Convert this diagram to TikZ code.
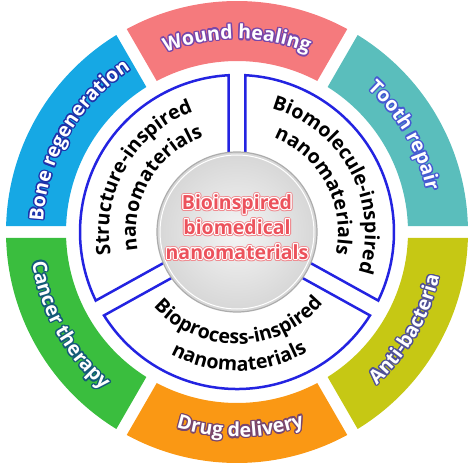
\documentclass[tikz,border=0pt]{standalone}
\usepackage{fontspec}
\setmainfont{Open Sans}
\usetikzlibrary{decorations.text}

\definecolor{woundc}{RGB}{245,122,125}
\definecolor{toothc}{RGB}{90,190,188}
\definecolor{antic}{RGB}{198,200,20}
\definecolor{drugc}{RGB}{250,152,20}
\definecolor{cancerc}{RGB}{58,190,62}
\definecolor{bonec}{RGB}{22,168,228}
\definecolor{woundg}{RGB}{120,70,170}
\definecolor{toothg}{RGB}{70,90,210}
\definecolor{antig}{RGB}{80,80,150}
\definecolor{drugg}{RGB}{120,70,110}
\definecolor{cancerg}{RGB}{20,90,120}
\definecolor{boneg}{RGB}{30,50,170}
\definecolor{secblue}{RGB}{35,35,225}
\definecolor{corered}{RGB}{236,82,92}
\definecolor{coreglow}{RGB}{240,140,145}

\newcommand\lblfont{\fontsize{19.5}{22}\selectfont\bfseries}
\newcommand\secfont{\fontsize{19.6}{22}\selectfont\bfseries}

% outer ring piece: centre angle, colour
\newcommand\ringpart[2]{%
  \fill[#2] ({#1-30+asin(6/231)}:231)
    arc[start angle={#1-30+asin(6/231)}, end angle={#1+30-asin(6/231)}, radius=231pt]
    -- ({#1+30-asin(6/171)}:171)
    arc[start angle={#1+30-asin(6/171)}, end angle={#1-30+asin(6/171)}, radius=171pt] -- cycle;}

% inner blue piece: from angle, to angle
\newcommand\innerpart[2]{%
  \draw[secline] ({#1+asin(8.5/157)}:157)
    arc[start angle={#1+asin(8.5/157)}, end angle={#2-asin(8.5/157)}, radius=157pt]
    -- ({#2-asin(8.5/60)}:60)
    arc[start angle={#2-asin(8.5/60)}, end angle={#1+asin(8.5/60)}, radius=60pt] -- cycle;}

% white text with a coloured rim along an arc: from, to, radius, rim colour, text
\newcommand\ringlabel[5]{%
  \foreach \gdir in {0,30,...,330}
    \path[shift={(\gdir:1.4)}, decorate,
      decoration={text along path, text align=center, text={|\lblfont\color{#4}|#5}}]
      (#1:#3) arc[start angle=#1, end angle=#2, radius=#3pt];
  \path[decorate,
    decoration={text along path, text align=center, text={|\lblfont\color{white}|#5}}]
    (#1:#3) arc[start angle=#1, end angle=#2, radius=#3pt];}

% black text along an arc: from, to, radius, text
\newcommand\seclabel[4]{%
  \path[decorate,
    decoration={text along path, text align=center, text={|\secfont\color{black}|#4}}]
    (#1:#3) arc[start angle=#1, end angle=#2, radius=#3pt];}

\begin{document}
\begin{tikzpicture}
      [x=1pt, y=1pt,
       secline/.style={draw=secblue, line width=2.5pt, fill=white, line join=miter},
       coretext/.style={align=center, font=\fontsize{19.5}{25}\selectfont\bfseries}]
      \useasboundingbox (-237,-234) rectangle (237,232);

      % outer ring
      \ringpart{90}{woundc}
      \ringpart{30}{toothc}
      \ringpart{-30}{antic}
      \ringpart{-90}{drugc}
      \ringpart{-150}{cancerc}
      \ringpart{150}{bonec}

      \ringlabel{135}{45}{193}{woundg}{Wound healing}
      \ringlabel{75}{-15}{194}{toothg}{Tooth repair}
      \ringlabel{195}{105}{194}{boneg}{Bone regeneration}
      \ringlabel{164}{254}{207}{cancerg}{Cancer therapy}
      \ringlabel{226}{316}{205}{drugg}{Drug delivery}
      \ringlabel{285}{375}{207}{antig}{Anti-bacteria}

      % inner pieces
      \innerpart{90}{209}
      \innerpart{209}{331}
      \innerpart{-29}{90}

      \seclabel{220}{80}{128}{Structure-inspired}
      \seclabel{220}{80}{101}{nanomaterials}
      \seclabel{98}{-42}{128}{Biomolecule-inspired}
      \seclabel{98}{-42}{101}{nanomaterials}
      \seclabel{201}{341}{112}{Bioprocess-inspired}
      \seclabel{201}{341}{139}{nanomaterials}

      % centre disc
      \shade[inner color=gray!8, outer color=gray!32] (0,0) circle[radius=80pt];
      \draw[gray!65, line width=1.2pt] (0,0) circle[radius=80pt];
      \draw[white, line width=1pt] (0,0) circle[radius=77pt];

      \foreach \gdir in {0,30,...,330}
        \node[coretext, text=coreglow, shift={(\gdir:2.2)}] at (0,5) {Bioinspired\\biomedical\\nanomaterials};
      \foreach \gdir in {0,30,...,330}
        \node[coretext, text=white, shift={(\gdir:1.1)}] at (0,5) {Bioinspired\\biomedical\\nanomaterials};
      \node(core)[coretext, text=corered] at (0,5) {Bioinspired\\biomedical\\nanomaterials};
  \end{tikzpicture}
\end{document}
